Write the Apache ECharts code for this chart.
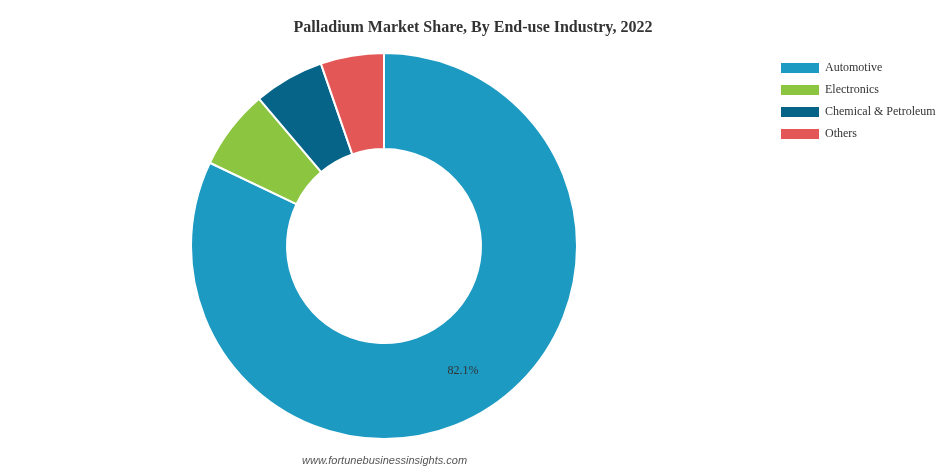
<!DOCTYPE html>
<html>
<head>
<meta charset="utf-8">
<script src="https://cdn.jsdelivr.net/npm/echarts@6/dist/echarts.min.js"></script>
<style>html,body{margin:0;padding:0;background:#fff;}#c{width:946px;height:473px;}</style>
</head>
<body>
<div id="c"></div>
<script>
const categories = ['Automotive', 'Electronics', 'Chemical & Petroleum', 'Others'];
const values = [82.1, 6.7, 5.9, 5.3];
const colors = ['#1c9ac2', '#8cc540', '#066489', '#e45757'];

const chart = echarts.init(document.getElementById('c'));
chart.setOption({
  animation: false,
  backgroundColor: '#fff',
  title: {
    text: 'Palladium Market Share, By End-use Industry, 2022',
    left: 'center',
    top: 15,
    textStyle: { fontFamily: 'Liberation Serif', fontSize: 16, fontWeight: 'bold', color: '#333' }
  },
  legend: {
    orient: 'vertical',
    left: 774,
    top: 56,
    padding: 5,
    itemWidth: 40,
    itemHeight: 12,
    itemGap: 8,
    icon: 'rect',
    textStyle: { fontFamily: 'Liberation Serif', fontSize: 12, color: '#333' },
    data: categories
  },
  graphic: [{
    type: 'text',
    left: 302,
    top: 455,
    style: { text: 'www.fortunebusinessinsights.com', font: 'italic 11px "Liberation Sans"', fill: '#555' }
  }],
  series: [{
    type: 'pie',
    center: [384, 246],
    radius: [97, 193],
    startAngle: 90,
    clockwise: true,
    itemStyle: { borderColor: '#fff', borderWidth: 2 },
    label: {
      position: 'inside',
      fontFamily: 'Liberation Serif',
      fontSize: 12,
      color: '#333',
      formatter: function (p) { return p.dataIndex === 0 ? p.value + '%' : ''; }
    },
    labelLine: { show: false },
    data: categories.map((c, i) => ({ name: c, value: values[i], itemStyle: { color: colors[i] } }))
  }]
});
</script>
</body>
</html>
